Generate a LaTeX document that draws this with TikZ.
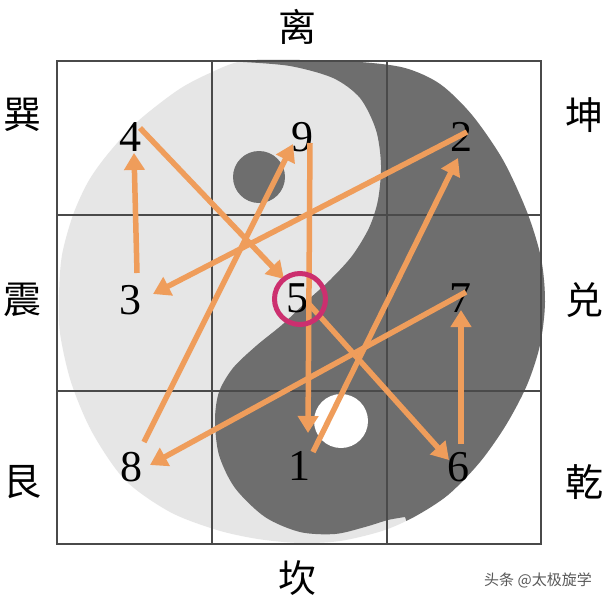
\documentclass[tikz,border=0pt]{standalone}
\usepackage{fontspec}
\setmainfont{Liberation Serif}
\newfontfamily\cjk{Noto Sans CJK SC}
\usetikzlibrary{arrows.meta}
\definecolor{lightg}{HTML}{E6E6E6}
\definecolor{darkg}{HTML}{6E6E6E}
\definecolor{arrc}{HTML}{EF9D5B}
\definecolor{ringc}{HTML}{CC2F6F}
\definecolor{gridc}{HTML}{4A4A4A}
\begin{document}
\begin{tikzpicture}[x=1pt,y=-1pt,
  arr/.style={draw=arrc, line width=5.5pt, -{Triangle[length=17pt,width=20pt,fill=arrc]}},
  num/.style={inner sep=0pt, font=\fontsize{44}{44}\selectfont},
  gua/.style={inner sep=0pt, font=\cjk\fontsize{38}{38}\selectfont},
  gridline/.style={draw=gridc, line width=1.2pt},
  ring/.style={draw=ringc, line width=5pt}]
\useasboundingbox (0,0) rectangle (608,600);
\fill[white] (0,0) rectangle (608,600);
% yin-yang disc
\fill[lightg] plot[smooth cycle] coordinates {(243,61) (300,60) (360,62) (405,68) (440,84) (472,115) (503,160) (527,212) (541,258) (545,302) (540,345) (527,385) (506,425) (480,462) (448,495) (414,517) (382,531) (340,541) (300,543) (258,539) (217,530) (170,512) (125,480) (92,432) (71,382) (60,333) (59,295) (62,255) (73,215) (88,182) (107,155) (137,122) (178,90) (210,73)};
\begin{scope}
\clip plot[smooth cycle] coordinates {(243,61) (300,60) (360,62) (405,68) (440,84) (472,115) (503,160) (527,212) (541,258) (545,302) (540,345) (527,385) (506,425) (480,462) (448,495) (414,517) (382,531) (340,541) (300,543) (258,539) (217,530) (170,512) (125,480) (92,432) (71,382) (60,333) (59,295) (62,255) (73,215) (88,182) (107,155) (137,122) (178,90) (210,73)};
\fill[darkg] (243,30) -- plot[smooth] coordinates {(243,62) (290,66) (333,78) (360,98) (376,130) (381,165) (378,200) (369,228) (352,256) (330,280) (308,300) (283,324) (256,346) (233,368) (219,392) (215,420) (219,455) (235,488) (265,517) (300,532) (335,534) (365,527) (388,520) (405,517)} -- (430,590) -- (620,590) -- (620,30) -- cycle;
\end{scope}
\fill[darkg] (259,177) circle (26pt);
\fill[white] (341,421) circle (27pt);
% grid
\draw[gridline] (57,61) rectangle (541,544);
\draw[gridline] (212,61) -- (212,544) (387,61) -- (387,544) (57,215) -- (541,215) (57,391) -- (541,391);
% numbers
\node[num] (n4) at (130,137) {4};
\node[num] (n9) at (302,137) {9};
\node[num] (n2) at (461,137) {2};
\node[num] (n3) at (130,300) {3};
\node[num] (n5) at (297,298) {5};
\node[num] (n7) at (460,298) {7};
\node[num] (n8) at (131,467) {8};
\node[num] (n1) at (299,466) {1};
\node[num] (n6) at (458,467) {6};
% arrows (Lo Shu path)
\draw[arr] ([shift={(14,-14)}]n1.center) -- ([shift={(-3,21)}]n2.center);
\draw[arr] ([shift={(6,-5)}]n2.center) -- ([shift={(23,-6)}]n3.center);
\draw[arr] ([shift={(7,-27)}]n3.center) -- ([shift={(4,16)}]n4.center);
\draw[arr] ([shift={(10,-9)}]n4.center) -- ([shift={(-13,-19)}]n5.center);
\draw[arr] ([shift={(11,5)}]n5.center) -- ([shift={(-9,-7)}]n6.center);
\draw[arr] ([shift={(3,-23)}]n6.center) -- ([shift={(1,12)}]n7.center);
\draw[arr] ([shift={(6,-6)}]n7.center) -- ([shift={(19,-2)}]n8.center);
\draw[arr] ([shift={(13,-25)}]n8.center) -- ([shift={(-9,7)}]n9.center);
\draw[arr] ([shift={(8,6)}]n9.center) -- ([shift={(9,-33)}]n1.center);
% ring around 5
\node[ring, circle, minimum size=51pt, inner sep=0pt] (r5) at (300,299) {};
% trigram names
\node[gua] (li) at (297,27) {离};
\node[gua] (kan) at (297,578) {坎};
\node[gua] (xun) at (23,115) {巽};
\node[gua] (kun) at (584,115) {坤};
\node[gua] (zhen) at (23,300) {震};
\node[gua] (dui) at (584,300) {兑};
\node[gua] (gen) at (23,482) {艮};
\node[gua] (qian) at (584,482) {乾};
% watermark
\node[inner sep=0pt, text=black!65, font=\cjk\fontsize{15}{15}\selectfont] (wm) at (538,580) {头条 @太极旋学};
\end{tikzpicture}
\end{document}
